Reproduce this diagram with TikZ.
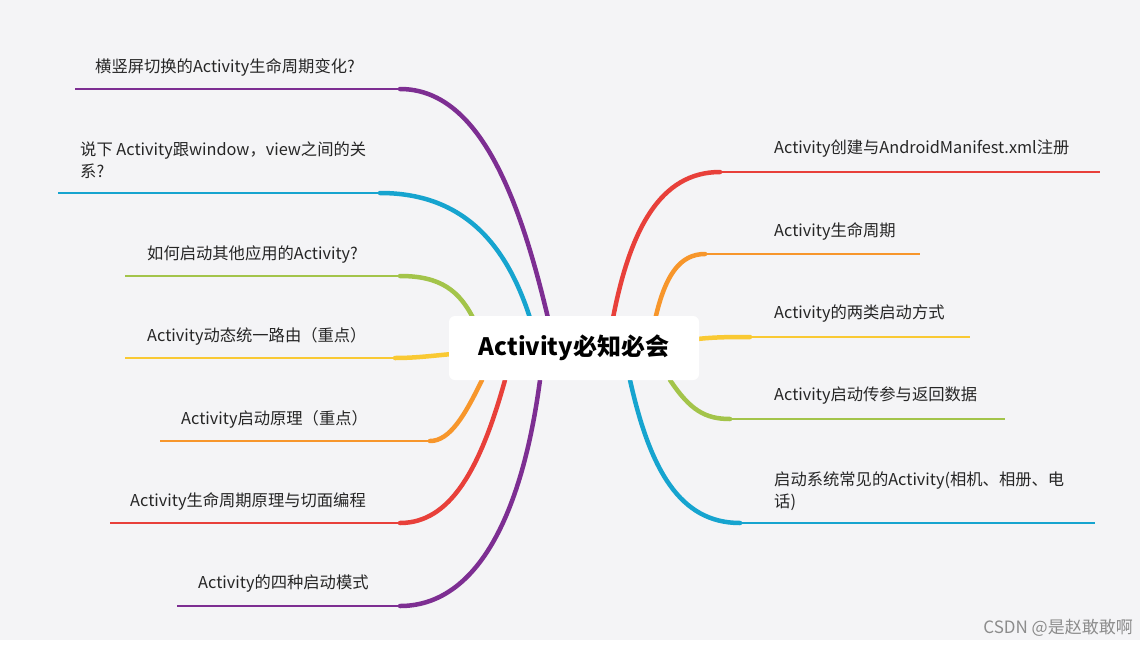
\documentclass[tikz,border=0pt]{standalone}
\usepackage{fontspec}
\setmainfont{Noto Sans CJK SC}
\begin{document}
\begin{tikzpicture}[x=1pt,y=-1pt,
  lbl/.style={anchor=west,inner sep=0pt,font=\fontsize{16.3}{22}\selectfont,text=black!85,align=left},
  br/.style={line width=4.5pt,line cap=round},
  ul/.style={line width=1.6pt}]
\definecolor{cR}{HTML}{E8403A}\definecolor{cO}{HTML}{F7962B}\definecolor{cY}{HTML}{F9C933}
\definecolor{cG}{HTML}{A3C44A}\definecolor{cB}{HTML}{16A4CF}\definecolor{cP}{HTML}{7D2E92}
\definecolor{bg}{HTML}{F4F4F6}
\useasboundingbox (0,0) rectangle (1148,648);
\fill[white] (0,0) rectangle (1148,648);
\fill[bg] (0,0) rectangle (1140,640);
% right side
\coordinate (r1a) at (613,318); \coordinate (r1b) at (720,172); \coordinate (r1c) at (1100,172);
\coordinate (r2a) at (655,320); \coordinate (r2b) at (705,254); \coordinate (r2c) at (920,254);
\coordinate (r3a) at (690,340); \coordinate (r3b) at (750,337); \coordinate (r3c) at (970,337);
\coordinate (r4a) at (670,380); \coordinate (r4b) at (730,419); \coordinate (r4c) at (1005,419);
\coordinate (r5a) at (630,380); \coordinate (r5b) at (740,523); \coordinate (r5c) at (1095,523);
\draw[br,cR] (r1a) .. controls (630,230) and (660,172) .. (r1b); \draw[ul,cR] (r1b) -- (r1c);
\draw[br,cO] (r2a) .. controls (665,275) and (680,254) .. (r2b); \draw[ul,cO] (r2b) -- (r2c);
\draw[br,cY] (r3a) .. controls (710,337) and (730,337) .. (r3b); \draw[ul,cY] (r3b) -- (r3c);
\draw[br,cG] (r4a) .. controls (690,410) and (705,419) .. (r4b); \draw[ul,cG] (r4b) -- (r4c);
\draw[br,cB] (r5a) .. controls (650,470) and (680,523) .. (r5b); \draw[ul,cB] (r5b) -- (r5c);
\node[lbl] (t1) at (774,149) {Activity创建与AndroidManifest.xml注册};
\node[lbl] (t2) at (774,231) {Activity生命周期};
\node[lbl] (t3) at (774,314) {Activity的两类启动方式};
\node[lbl] (t4) at (774,396) {Activity启动传参与返回数据};
\node[lbl] (t5) at (774,491) {启动系统常见的Activity(相机、相册、电\\话)};
% left side
\coordinate (l1a) at (548,318); \coordinate (l1b) at (400,89); \coordinate (l1c) at (75,89);
\coordinate (l2a) at (530,318); \coordinate (l2b) at (380,193); \coordinate (l2c) at (58,193);
\coordinate (l3a) at (475,322); \coordinate (l3b) at (400,276); \coordinate (l3c) at (125,276);
\coordinate (l4a) at (452,354); \coordinate (l4b) at (395,358); \coordinate (l4c) at (125,358);
\coordinate (l5a) at (482,380); \coordinate (l5b) at (430,441); \coordinate (l5c) at (160,441);
\coordinate (l6a) at (505,380); \coordinate (l6b) at (400,523); \coordinate (l6c) at (110,523);
\coordinate (l7a) at (540,380); \coordinate (l7b) at (400,606); \coordinate (l7c) at (177,606);
\draw[br,cP] (l1a) .. controls (520,200) and (480,89) .. (l1b); \draw[ul,cP] (l1b) -- (l1c);
\draw[br,cB] (l2a) .. controls (505,240) and (460,193) .. (l2b); \draw[ul,cB] (l2b) -- (l2c);
\draw[br,cG] (l3a) .. controls (460,290) and (440,276) .. (l3b); \draw[ul,cG] (l3b) -- (l3c);
\draw[br,cY] (l4a) .. controls (430,356) and (415,358) .. (l4b); \draw[ul,cY] (l4b) -- (l4c);
\draw[br,cO] (l5a) .. controls (465,415) and (450,441) .. (l5b); \draw[ul,cO] (l5b) -- (l5c);
\draw[br,cR] (l6a) .. controls (480,470) and (450,523) .. (l6b); \draw[ul,cR] (l6b) -- (l6c);
\draw[br,cP] (l7a) .. controls (520,530) and (470,606) .. (l7b); \draw[ul,cP] (l7b) -- (l7c);
\node[lbl] (s1) at (95,67) {横竖屏切换的Activity生命周期变化?};
\node[lbl] (s2) at (80,160) {说下 Activity跟window，view之间的关\\系?};
\node[lbl] (s3) at (147,254) {如何启动其他应用的Activity?};
\node[lbl] (s4) at (147,336) {Activity动态统一路由（重点）};
\node[lbl] (s5) at (181,419) {Activity启动原理（重点）};
\node[lbl] (s6) at (130,501) {Activity生命周期原理与切面编程};
\node[lbl] (s7) at (198,584) {Activity的四种启动模式};
% center
\node[fill=white,rounded corners=6pt,minimum width=250pt,minimum height=64pt,
  font=\fontsize{24}{26}\selectfont\bfseries] (c) at (574,348) {Activity必知必会};
\node[anchor=east,inner sep=0pt,text=black!45,font=\fontsize{17}{18}\selectfont] (wm) at (1133,628) {CSDN @是赵敢敢啊};
\end{tikzpicture}
\end{document}
